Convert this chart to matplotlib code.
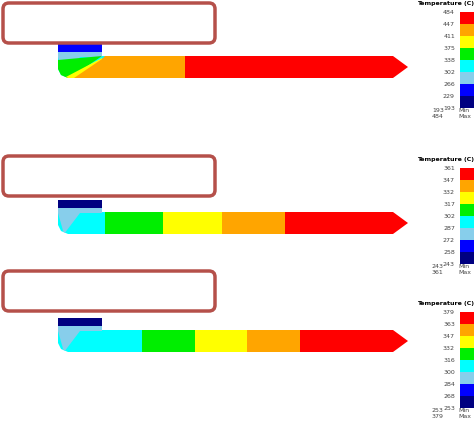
import matplotlib
matplotlib.use("Agg")
import matplotlib.pyplot as plt
from matplotlib.patches import Polygon, Rectangle, FancyBboxPatch

cmap8 = ["#ff0000", "#ffa500", "#ffff00", "#00ee00", "#00ffff", "#87ceeb", "#0000ff", "#000080"]

legend_ticks = [
    [484, 447, 411, 375, 338, 302, 266, 229, 193],
    [361, 347, 332, 317, 302, 287, 272, 258, 243],
    [379, 363, 347, 332, 316, 300, 284, 268, 253],
]
legend_minmax = [(193, 484), (243, 361), (253, 379)]
# (x_start, x_end, color index) bands along the pipe
bands = [
    [(58, 105, 4), (105, 185, 1), (185, 410, 0)],
    [(58, 105, 4), (105, 163, 3), (163, 222, 2), (222, 285, 1), (285, 410, 0)],
    [(58, 142, 4), (142, 195, 3), (195, 247, 2), (247, 300, 1), (300, 410, 0)],
]
inlet_top = [44, 200, 318]
box_top = [2, 155, 270]
legend_top = [12, 168, 312]

fig = plt.figure(figsize=(4.74, 4.26), dpi=100)
ax = fig.add_axes([0, 0, 1, 1])
ax.set_xlim(0, 474); ax.set_ylim(426, 0); ax.axis("off")

for i in range(3):
    itop = inlet_top[i]
    pt, pb = itop + 12, itop + 34
    pipe = Polygon([(58, itop), (102, itop), (102, pt), (393, pt), (408, (pt+pb)/2),
                    (393, pb), (68, pb), (61, pb-3), (58, pb-9)], closed=True,
                   facecolor="none", edgecolor="none")
    ax.add_patch(pipe)
    for x0, x1, c in bands[i]:
        r = Rectangle((x0, itop), x1-x0, pb-itop, facecolor=cmap8[c], edgecolor="none")
        ax.add_patch(r); r.set_clip_path(pipe)
    # inlet layers
    r = Rectangle((58, itop), 44, 8, facecolor=cmap8[6 if i == 0 else 7], edgecolor="none")
    ax.add_patch(r); r.set_clip_path(pipe)
    r = Rectangle((58, itop+8), 44, 5, facecolor=cmap8[5], edgecolor="none")
    ax.add_patch(r); r.set_clip_path(pipe)
    p = Polygon([(58, itop+13), (80, itop+13), (64, pb)], facecolor=cmap8[5], edgecolor="none")
    ax.add_patch(p); p.set_clip_path(pipe)
    if i == 0:
        p = Polygon([(58, itop+16), (102, pt), (70, pb), (58, pb)], facecolor=cmap8[3], edgecolor="none")
        ax.add_patch(p); p.set_clip_path(pipe)
        p = Polygon([(64, pb), (102, pt+2), (102, pb)], facecolor=cmap8[2], edgecolor="none")
        ax.add_patch(p); p.set_clip_path(pipe)
        p = Polygon([(74, pb), (102, pt+3), (105, pt), (110, pb)], facecolor=cmap8[1], edgecolor="none")
        ax.add_patch(p); p.set_clip_path(pipe)
    # label box
    by = box_top[i]
    ax.add_patch(FancyBboxPatch((3, by+1), 212, 40, boxstyle="round,pad=0,rounding_size=6",
                                facecolor="white", edgecolor="#b5504a", lw=2.5))
    # legend
    ly = legend_top[i]
    ax.text(474, ly-9, "Temperature (C)", ha="right", va="center", fontsize=4.5, fontweight="bold")
    step = 12.0
    for k in range(8):
        ax.add_patch(Rectangle((460, ly + k*step), 14, step, facecolor=cmap8[k], edgecolor="none"))
    for k, t in enumerate(legend_ticks[i]):
        ax.text(455, ly + k*step, str(t), ha="right", va="center", fontsize=4.5, color="#444444")
    mn, mx = legend_minmax[i]
    yb = ly + 8*step
    ax.text(432, yb+3, str(mn), ha="left", va="center", fontsize=4.5, color="#444444")
    ax.text(432, yb+9, str(mx), ha="left", va="center", fontsize=4.5, color="#444444")
    ax.text(458, yb+3, "Min", ha="left", va="center", fontsize=4.5, color="#444444")
    ax.text(458, yb+9, "Max", ha="left", va="center", fontsize=4.5, color="#444444")

fig.savefig("out.png", dpi=100)
